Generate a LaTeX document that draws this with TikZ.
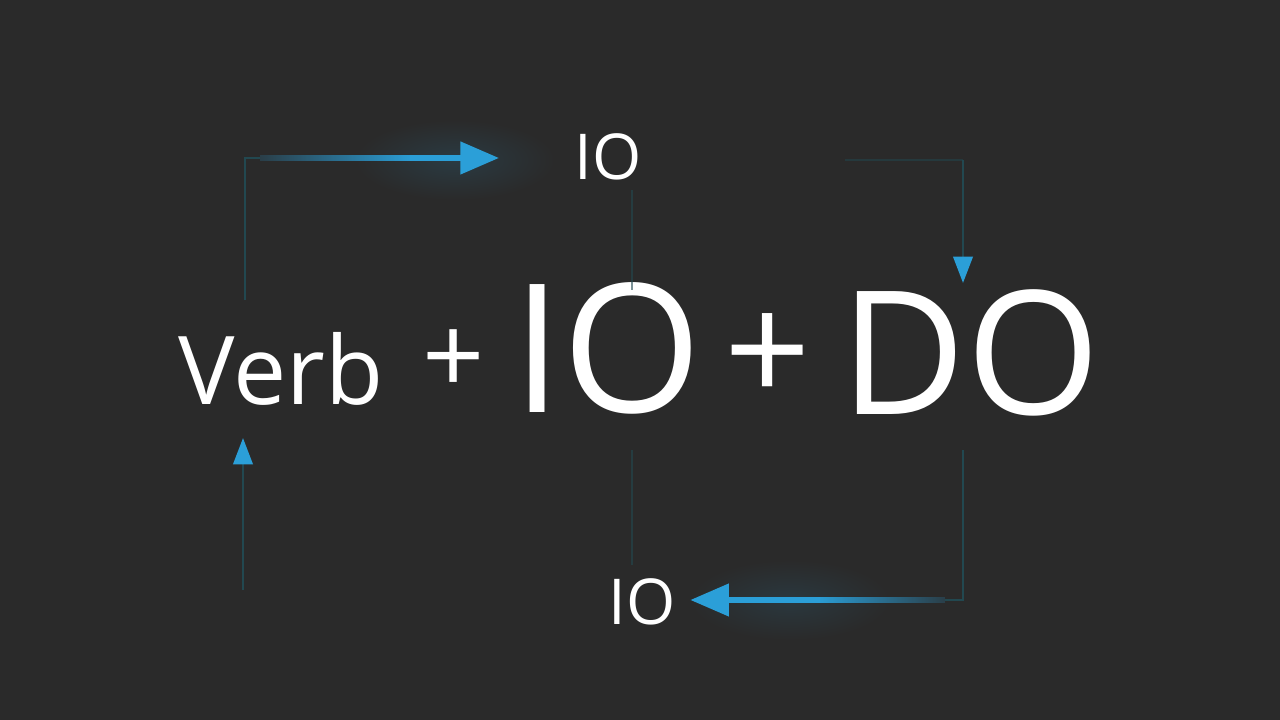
\documentclass[tikz,border=0pt]{standalone}
\usepackage{fontspec}
\setmainfont{Open Sans}
\usepackage{tikz}
\usetikzlibrary{positioning, arrows.meta, fadings}

\definecolor{bgdark}{HTML}{2A2A2A}
\definecolor{arrowblue}{HTML}{2B9FD8}
\definecolor{faintteal}{HTML}{224850}

\tikzfading[name=fade out right, left color=transparent!0, right color=transparent!100]
\tikzfading[name=fade out left, left color=transparent!100, right color=transparent!0]

\tikzset{
    word/.style={text=white, inner sep=0pt, anchor=base west},
    faint/.style={draw=faintteal, line width=0.8pt},
    bright/.style={draw=arrowblue, line width=1.6pt, -{Triangle[length=11pt, width=9pt]}},
    veil/.style={draw=bgdark, line width=2.4pt, opacity=0.85},
    smallhead/.style={draw=faintteal, line width=0.8pt, -{Triangle[length=7.5pt, width=5.5pt, fill=arrowblue, color=arrowblue]}}
}

\begin{document}
\begin{tikzpicture}
            \fill[bgdark] (0, 0) rectangle (12.8, 7.2);
            \shade[inner color=arrowblue!14!bgdark, outer color=bgdark] (4.55, 5.60) ellipse (1.0 and 0.4);
            \shade[inner color=arrowblue!12!bgdark, outer color=bgdark] (7.9, 1.20) ellipse (1.0 and 0.4);

            \node[word, font=\fontsize{27}{30}\selectfont] (verb) at (1.78, 3.15) {Verb};
            \node[word, font=\fontsize{31}{34}\selectfont] (plus1) at (4.22, 3.25) {+};
            \node[word, font=\fontsize{51}{56}\selectfont] (io) at (5.12, 3.07) {IO};
            \node[word, font=\fontsize{43}{48}\selectfont] (plus2) at (7.24, 3.16) {+};
            \node[word, font=\fontsize{49}{54}\selectfont] (do) at (8.40, 3.05) {DO};
            \node[word, font=\fontsize{18}{20}\selectfont] (iotop) at (5.74, 5.40) {IO};
            \node[word, font=\fontsize{18}{20}\selectfont] (iobot) at (6.08, 0.95) {IO};

            \coordinate (lb) at (2.43, 1.30);
            \coordinate (larr) at (2.43, 2.82);
            \coordinate (lt0) at (2.45, 4.20);
            \coordinate (lt) at (2.45, 5.62);
            \coordinate (lmid) at (2.60, 5.62);
            \coordinate (lfade) at (4.10, 5.62);
            \coordinate (rt0) at (8.45, 5.60);
            \coordinate (rt) at (9.63, 5.60);
            \coordinate (rarr) at (9.63, 4.37);
            \coordinate (rb0) at (9.63, 2.70);
            \coordinate (rb) at (9.63, 1.20);
            \coordinate (rmid) at (9.45, 1.20);
            \coordinate (rfade) at (8.20, 1.20);
            \coordinate (m1) at (6.32, 5.30);
            \coordinate (m2) at (6.32, 4.30);
            \coordinate (m3) at (6.32, 2.70);
            \coordinate (m4) at (6.32, 1.55);

            % left side, going up and then to the upper IO
            \draw[smallhead] (lb) -- (larr);
            \draw[faint] (lt0) -- (lt) -- (lmid);
            \draw[bright, shorten >=0.75cm] (lmid) -- (iotop.west |- lt);
            \draw[veil, path fading=fade out right] (lmid) -- (lfade);

            % right side, going down and then to the lower IO
            \draw[faint, opacity=0.5] (rt0) -- (rt);
            \draw[smallhead] (rt) -- (rarr);
            \draw[faint] (rb0) -- (rb) -- (rmid);
            \draw[bright, shorten >=0.14cm] (rmid) -- (iobot.east |- rb);
            \draw[veil, path fading=fade out left] (rfade) -- (rmid);

            % middle links
            \draw[faint, opacity=0.6] (m1) -- (m2);
            \draw[faint, opacity=0.6] (m3) -- (m4);
        \end{tikzpicture}
\end{document}
